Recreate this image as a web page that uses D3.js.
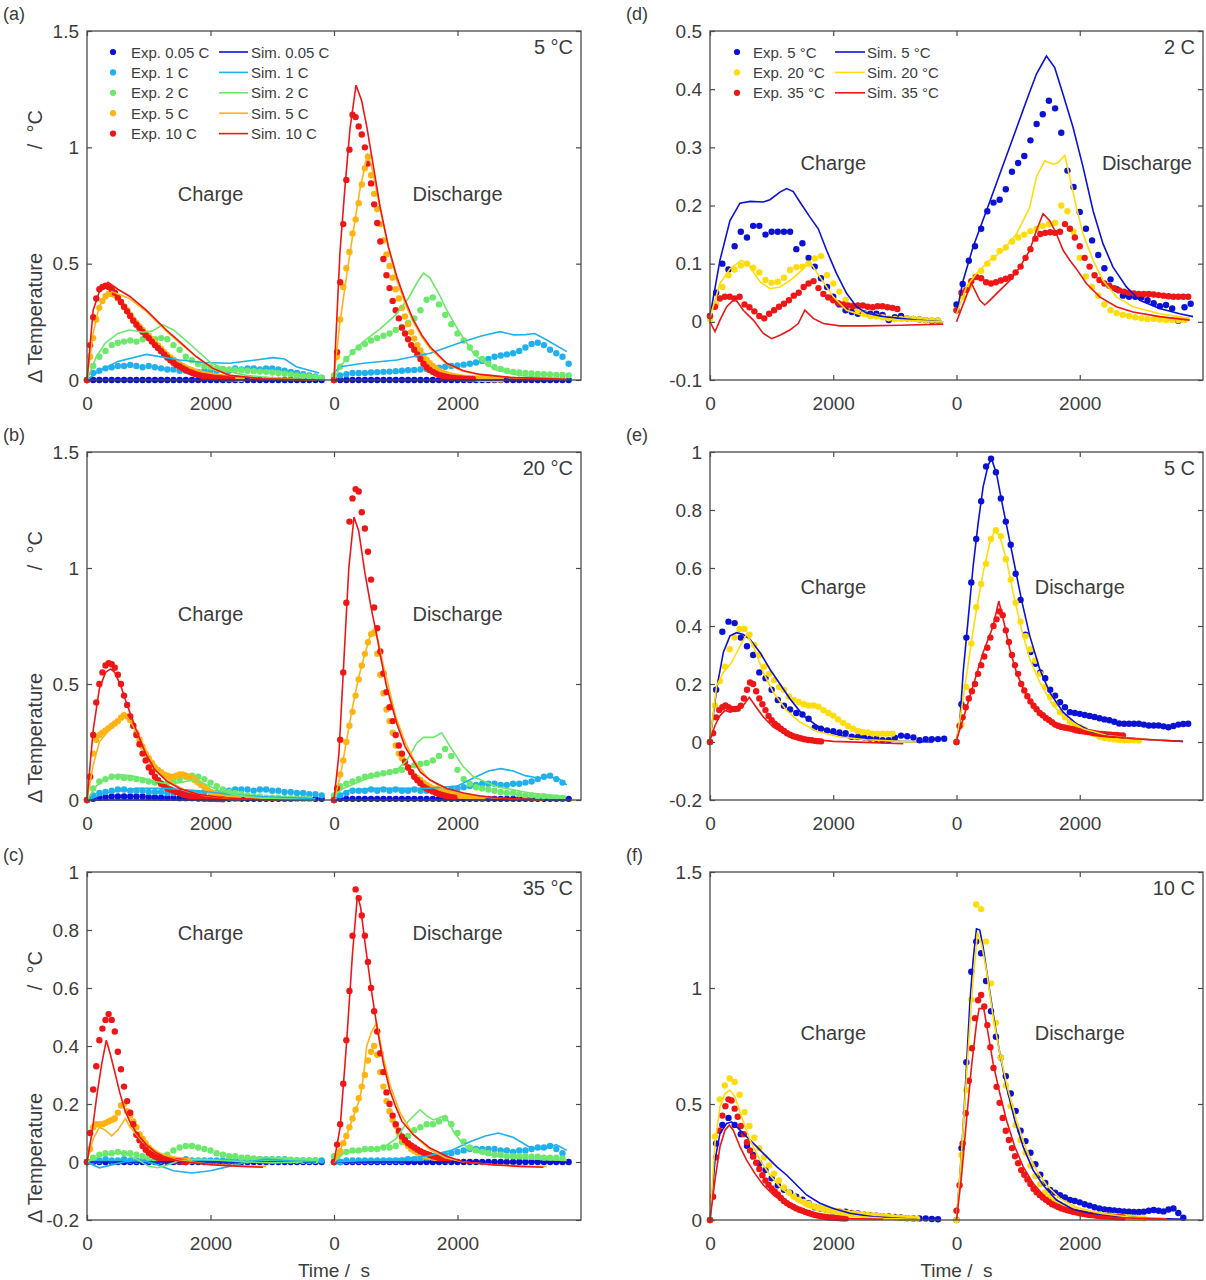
<!DOCTYPE html>
<html>
<head>
<meta charset="utf-8">
<script src="https://d3js.org/d3.v7.min.js"></script>
<style>
  body { margin: 0; background: #fff; }
  text { font-family: "Liberation Sans", Arial, sans-serif; fill: #3c3c3c; }
</style>
</head>
<body>
<script>
// ---------- shared labels ----------
const rateNames = ["0.05 C", "1 C", "2 C", "5 C", "10 C"];
const tempNames = ["5 °C", "20 °C", "35 °C"];
const rateColors = ["#0b12d6", "#1fb0ee", "#6ce86c", "#ffb414", "#ee1616"];
const tempColors = ["#0b12d6", "#ffdc0a", "#ee1616"];
const xTicks = [0, 2000, 4000, 6000];
const xTickLabels = ["0", "2000", "0", "2000"];
const disOffset = 4000;   // discharge curves start here on the shared time axis

// ---------- (a) 5 °C ----------
const a_chg_dt = [100, 100, 100, 50, 50];
const a_chg_exp = [
  [0,0,0,0,0,0,0,0,0,0,0,0,0,0,0,0,0,0,0,0,0,0,0,0,0,0,0,0,0,0,0,0,0,0,0,0,0,0,0],
  [0,0.03,0.04,0.05,0.055,0.06,0.06,0.065,0.06,0.055,0.06,0.055,0.05,0.045,0.045,0.04,0.04,0.04,0.035,0.04,0.04,0.04,0.045,0.04,0.05,0.045,0.05,0.05,0.045,0.05,0.05,0.045,0.04,0.035,0.03,0.025,0.02,0.015,0.01],
  [0,0.06,0.1,0.125,0.15,0.16,0.165,0.17,0.165,0.175,0.18,0.175,0.18,0.175,0.15,0.13,0.1,0.085,0.07,0.06,0.055,0.05,0.047,0.045,0.043,0.042,0.04,0.038,0.036,0.035,0.032,0.03,0.027,0.024,0.02,0.017,0.015,0.012,0.01],
  [0,0.1,0.18,0.26,0.31,0.34,0.36,0.37,0.37,0.365,0.35,0.335,0.315,0.3,0.28,0.26,0.245,0.23,0.215,0.2,0.19,0.175,0.16,0.148,0.135,0.12,0.108,0.097,0.087,0.077,0.068,0.06,0.053,0.047,0.042,0.037,0.032,0.028,0.025,0.022,0.02,0.017,0.015,0.013,0.011,0.01,0.009,0.008,0.007,0.006,0.005],
  [0,0.15,0.27,0.35,0.39,0.4,0.405,0.4,0.39,0.375,0.355,0.335,0.315,0.295,0.275,0.255,0.238,0.222,0.207,0.193,0.18,0.165,0.15,0.137,0.124,0.11,0.097,0.085,0.074,0.064,0.058,0.05,0.043,0.036,0.031,0.026,0.022,0.019,0.016,0.014,0.012,0.01,0.009,0.008,0.007,0.006,0.005,0.004]
];
const a_chg_sim = [
  [[0,0],[3700,0]],
  [[0,0],[200,0.04],[500,0.08],[960,0.11],[1300,0.095],[1500,0.086],[1900,0.075],[2310,0.072],[2700,0.085],[3015,0.096],[3200,0.09],[3390,0.057],[3760,0.03]],
  [[0,0],[150,0.1],[300,0.16],[500,0.2],[690,0.215],[900,0.205],[1050,0.21],[1230,0.237],[1400,0.215],[1600,0.17],[1770,0.13],[2000,0.075],[2150,0.057],[2400,0.03],[2580,0.02],[3000,0.01],[3700,0]],
  [[0,0],[100,0.2],[200,0.32],[400,0.38],[690,0.35],[960,0.295],[1285,0.21],[1500,0.16],[1770,0.1],[2040,0.05],[2310,0.02],[2850,0.005],[3700,0]],
  [[0,0],[100,0.3],[200,0.38],[340,0.42],[500,0.39],[690,0.36],[960,0.3],[1285,0.215],[1500,0.165],[1770,0.1],[2040,0.05],[2310,0.02],[2850,0.005],[3700,0]]
];
const a_dis_dt = [100, 100, 100, 50, 50];
const a_dis_exp = [
  [0,0,0,0,0,0,0,0,0,0,0,0,0,0,0,0,0,0,0,0,0,0,0,0,0,0,0,0,0,0,0,0,0,0,0,0,0,0,0],
  [0.01,0.02,0.025,0.03,0.03,0.03,0.032,0.034,0.035,0.036,0.038,0.04,0.042,0.043,0.045,0.047,0.05,0.053,0.057,0.06,0.063,0.066,0.07,0.075,0.082,0.09,0.1,0.105,0.11,0.115,0.125,0.14,0.155,0.16,0.15,0.13,0.115,0.1,0.07],
  [0.02,0.057,0.09,0.12,0.14,0.155,0.17,0.18,0.19,0.2,0.215,0.228,0.245,0.265,0.3,0.345,0.355,0.325,0.28,0.24,0.2,0.17,0.14,0.115,0.09,0.07,0.055,0.047,0.04,0.035,0.032,0.03,0.028,0.026,0.025,0.024,0.022,0.022,0.02],
  [0,0.1,0.26,0.4,0.48,0.55,0.63,0.69,0.76,0.84,0.91,0.96,0.88,0.8,0.735,0.67,0.6,0.54,0.49,0.44,0.39,0.35,0.31,0.273,0.24,0.205,0.178,0.15,0.127,0.105,0.086,0.072,0.06,0.05,0.04,0.032,0.027,0.022,0.019,0.016,0.014,0.012,0.01,0.009,0.008,0.007,0.006,0.005,0.005,0.004,0.004,0.003,0.003,0.003,0.002],
  [0,0.12,0.42,0.67,0.86,0.99,1.14,1.13,1.09,1.055,1.0,0.93,0.845,0.755,0.675,0.595,0.52,0.45,0.395,0.34,0.3,0.265,0.225,0.2,0.175,0.15,0.13,0.11,0.09,0.07,0.055,0.043,0.035,0.028,0.022,0.018,0.015,0.012,0.01,0.009,0.008,0.007,0.006,0.005,0.005,0.004]
];
const a_dis_sim = [
  [[0,0],[3770,0]],
  [[0,0.03],[97,0.057],[475,0.072],[1016,0.086],[1556,0.115],[2096,0.165],[2400,0.19],[2690,0.208],[2906,0.194],[3100,0.195],[3250,0.2],[3446,0.172],[3770,0.122]],
  [[0,0],[97,0.057],[300,0.12],[500,0.17],[745,0.22],[1000,0.28],[1200,0.35],[1350,0.42],[1448,0.459],[1550,0.44],[1700,0.37],[1826,0.3],[2000,0.22],[2258,0.115],[2400,0.08],[2636,0.043],[3000,0.02],[3400,0.01],[3770,0.005]],
  [[0,0],[20,0.06],[97,0.25],[205,0.45],[313,0.64],[421,0.82],[540,0.968],[600,0.93],[700,0.8],[800,0.67],[900,0.55],[1016,0.43],[1151,0.33],[1285,0.25],[1421,0.185],[1556,0.135],[1826,0.068],[2096,0.038],[2366,0.022],[2906,0.009],[3770,0.002]],
  [[0,0],[32,0.19],[97,0.55],[178,0.83],[259,1.08],[357,1.267],[448,1.2],[530,1.09],[637,0.92],[745,0.746],[880,0.574],[1016,0.445],[1151,0.344],[1285,0.258],[1421,0.194],[1556,0.143],[1826,0.072],[2096,0.04],[2366,0.024],[2906,0.01],[3770,0.003]]
];

// ---------- (b) 20 °C ----------
const b_chg_dt = [100, 100, 100, 50, 50];
const b_chg_exp = [
  [0,0.005,0.01,0.012,0.015,0.015,0.015,0.015,0.015,0.015,0.012,0.012,0.01,0.01,0.01,0.008,0.008,0.008,0.006,0.006,0.005,0.005,0.005,0.005,0.005,0.005,0.005,0.005,0.005,0.005,0.005,0.005,0.005,0.005,0.005,0.005,0.005,0.005,0.005],
  [0,0.02,0.03,0.035,0.04,0.045,0.045,0.04,0.04,0.04,0.035,0.035,0.035,0.03,0.03,0.03,0.03,0.03,0.03,0.035,0.035,0.03,0.035,0.04,0.045,0.045,0.045,0.04,0.045,0.045,0.04,0.04,0.035,0.035,0.03,0.03,0.025,0.025,0.02],
  [0,0.05,0.08,0.09,0.1,0.1,0.095,0.095,0.09,0.085,0.08,0.075,0.07,0.075,0.08,0.09,0.1,0.105,0.1,0.09,0.075,0.06,0.045,0.035,0.03,0.025,0.02,0.015,0.015,0.01,0.01,0.01,0.008,0.008,0.005,0.005,0.005],
  [0,0.1,0.2,0.26,0.28,0.29,0.3,0.31,0.32,0.33,0.34,0.355,0.365,0.36,0.345,0.32,0.29,0.26,0.23,0.2,0.18,0.16,0.14,0.13,0.12,0.11,0.105,0.1,0.1,0.105,0.11,0.11,0.105,0.1,0.095,0.085,0.075,0.065,0.055,0.045,0.035,0.03,0.025,0.02,0.015,0.012,0.01,0.008,0.006,0.005],
  [0,0.1,0.28,0.42,0.5,0.55,0.58,0.59,0.585,0.57,0.54,0.5,0.45,0.41,0.36,0.32,0.28,0.24,0.2,0.17,0.14,0.12,0.1,0.085,0.07,0.06,0.05,0.045,0.04,0.035,0.03,0.025,0.02,0.018,0.015,0.012,0.01,0.008,0.007,0.006,0.005,0.005,0.004,0.004,0.003]
];
const b_chg_sim = [
  [[0,0],[3700,0]],
  [[0,0],[300,0.03],[800,0.05],[1300,0.05],[1800,0.04],[2300,0.025],[2800,0.015],[3300,0.01],[3700,0.005]],
  [[0,0],[150,0.06],[300,0.09],[500,0.11],[700,0.105],[900,0.095],[1100,0.08],[1300,0.07],[1500,0.075],[1700,0.085],[1900,0.07],[2100,0.045],[2400,0.022],[2800,0.008],[3400,0.002],[3700,0]],
  [[0,0],[100,0.15],[200,0.25],[350,0.3],[450,0.33],[550,0.365],[620,0.37],[700,0.34],[850,0.27],[1000,0.19],[1200,0.12],[1400,0.07],[1600,0.04],[1900,0.02],[2300,0.007],[3100,0]],
  [[0,0],[100,0.3],[200,0.48],[300,0.55],[380,0.565],[450,0.55],[550,0.49],[650,0.41],[800,0.3],[950,0.2],[1100,0.13],[1300,0.08],[1500,0.05],[1800,0.025],[2200,0.01],[2800,0.002],[3100,0]]
];
const b_dis_dt = [100, 100, 100, 50, 50];
const b_dis_exp = [
  [0,0.005,0.005,0.005,0.005,0.005,0.005,0.005,0.005,0.005,0.005,0.005,0.005,0.005,0.005,0.005,0.005,0.005,0.005,0.005,0.005,0.005,0.005,0.005,0.005,0.005,0.005,0.005,0.005,0.005,0.005,0.005,0.005,0.005,0.005,0.005,0.005,0.005,0.005],
  [0,0.02,0.03,0.04,0.04,0.04,0.045,0.04,0.045,0.04,0.045,0.04,0.04,0.045,0.04,0.04,0.04,0.045,0.04,0.045,0.05,0.055,0.06,0.065,0.07,0.07,0.07,0.065,0.065,0.07,0.07,0.075,0.08,0.09,0.1,0.105,0.09,0.075],
  [0.02,0.06,0.07,0.08,0.09,0.1,0.105,0.11,0.115,0.12,0.125,0.13,0.14,0.15,0.155,0.16,0.17,0.19,0.22,0.19,0.13,0.09,0.07,0.055,0.05,0.045,0.04,0.035,0.03,0.03,0.025,0.02,0.02,0.015,0.015,0.01,0.01,0.008],
  [0,0.05,0.11,0.17,0.25,0.32,0.38,0.45,0.52,0.58,0.63,0.68,0.715,0.72,0.63,0.54,0.46,0.39,0.34,0.29,0.235,0.2,0.18,0.16,0.14,0.12,0.105,0.095,0.086,0.075,0.065,0.057,0.05,0.045,0.04,0.035,0.03,0.027,0.024,0.021,0.019,0.018,0.017,0.015,0.013,0.012,0.01,0.009,0.008],
  [0,0.05,0.26,0.55,0.85,1.2,1.3,1.34,1.33,1.24,1.17,1.07,0.95,0.83,0.74,0.64,0.545,0.465,0.4,0.34,0.28,0.235,0.2,0.165,0.14,0.12,0.1,0.085,0.072,0.057,0.05,0.043,0.037,0.031,0.026,0.022,0.018,0.015,0.012,0.01]
];
const b_dis_sim = [
  [[0,0],[3770,0]],
  [[0,0],[200,0.04],[600,0.05],[1000,0.05],[1500,0.05],[2000,0.06],[2300,0.1],[2500,0.125],[2700,0.135],[2900,0.125],[3100,0.105],[3300,0.095],[3500,0.1],[3650,0.09],[3770,0.065]],
  [[0,0.02],[150,0.05],[475,0.086],[745,0.11],[1016,0.13],[1178,0.17],[1340,0.245],[1448,0.27],[1610,0.27],[1745,0.29],[1880,0.23],[2096,0.143],[2258,0.1],[2636,0.057],[3176,0.03],[3770,0.015]],
  [[0,0],[100,0.1],[200,0.25],[300,0.4],[400,0.53],[500,0.63],[600,0.72],[650,0.74],[720,0.68],[800,0.58],[900,0.47],[1000,0.36],[1150,0.25],[1300,0.17],[1500,0.1],[1700,0.06],[2000,0.03],[2400,0.012],[3000,0.003],[3400,0]],
  [[0,0],[80,0.2],[160,0.6],[240,1.0],[324,1.22],[400,1.16],[500,0.98],[600,0.83],[700,0.7],[745,0.63],[850,0.49],[1016,0.33],[1150,0.23],[1285,0.17],[1400,0.12],[1556,0.086],[1826,0.05],[2100,0.03],[2366,0.017],[2800,0.006],[3400,0]]
];

// ---------- (c) 35 °C ----------
const c_chg_dt = [100, 100, 100, 50, 50];
const c_chg_exp = [
  [0,0,0,0,0,0,0,0,0,0,0,0,0,0,0,0,0,0,0,0,0,0,0,0,0,0,0,0,0,0,0,0,0,0,0,0,0,0,0],
  [0,0.005,0.005,0.01,0.005,0.005,0.01,0.005,0.005,0.01,0.005,0.005,0.005,0.01,0.005,0.005,0.01,0.005,0.005,0.005,0.005,0.005,0.005,0.005,0.005,0.005,0.005,0.01,0.01,0.01,0.01,0.01,0.01,0.005,0.005,0.005,0.005,0.005,0.005],
  [0,0.015,0.025,0.03,0.03,0.035,0.03,0.03,0.025,0.02,0.015,0.01,0.015,0.025,0.04,0.05,0.055,0.055,0.05,0.045,0.04,0.03,0.025,0.02,0.02,0.015,0.015,0.012,0.01,0.01,0.01,0.008,0.008,0.008,0.006,0.005,0.005,0.005],
  [0,0.045,0.12,0.13,0.13,0.13,0.135,0.14,0.145,0.15,0.17,0.195,0.2,0.175,0.16,0.14,0.12,0.095,0.08,0.065,0.05,0.04,0.032,0.025,0.02,0.017,0.014,0.012,0.01,0.008,0.006,0.005,0.004,0.003],
  [0,0.1,0.25,0.33,0.42,0.46,0.49,0.51,0.49,0.45,0.38,0.32,0.26,0.21,0.17,0.13,0.094,0.075,0.055,0.042,0.032,0.025,0.019,0.015,0.011,0.008,0.006,0.005,0.004,0.003,0.002,0.001,0]
];
const c_chg_sim = [
  [[0,0],[3700,0]],
  [[0,0],[200,-0.02],[400,-0.01],[600,0],[800,0.005],[1000,0],[1200,-0.015],[1400,-0.03],[1700,-0.038],[2000,-0.03],[2300,-0.015],[2600,0],[2900,0.01],[3200,0.005],[3700,0]],
  [[0,0],[200,0.02],[400,0.03],[600,0.03],[800,0.01],[1000,-0.015],[1150,-0.02],[1300,-0.01],[1500,0.005],[1800,0.01],[2200,0.005],[2600,0],[3000,-0.003],[3500,0]],
  [[0,0],[100,0.08],[200,0.12],[300,0.11],[400,0.09],[500,0.11],[620,0.15],[700,0.12],[800,0.095],[900,0.07],[1050,0.045],[1250,0.02],[1500,0.005],[2000,-0.008],[2500,-0.013],[2900,-0.015]],
  [[0,0],[80,0.1],[160,0.23],[240,0.34],[313,0.42],[380,0.37],[450,0.31],[530,0.24],[610,0.18],[691,0.14],[800,0.1],[960,0.06],[1100,0.035],[1230,0.02],[1500,0.002],[2040,-0.01],[2600,-0.016],[2850,-0.018]]
];
const c_dis_dt = [100, 100, 100, 50, 50];
const c_dis_exp = [
  [0,0,0,0,0,0,0,0,0,0,0,0,0,0,0,0,0,0,0,0,0,0,0,0,0,0,0,0,0,0,0,0,0,0,0,0,0,0,0],
  [0,0,0.005,0.005,0.005,0.005,0.005,0.005,0.005,0.005,0.005,0.005,0.01,0.01,0.01,0.015,0.015,0.02,0.025,0.03,0.035,0.04,0.045,0.045,0.045,0.045,0.045,0.04,0.04,0.035,0.04,0.04,0.045,0.05,0.05,0.055,0.045,0.03],
  [0.02,0.03,0.035,0.04,0.04,0.045,0.045,0.045,0.05,0.05,0.055,0.07,0.09,0.11,0.12,0.13,0.13,0.14,0.15,0.13,0.1,0.07,0.05,0.04,0.035,0.03,0.025,0.025,0.02,0.02,0.02,0.02,0.018,0.018,0.015,0.015,0.015,0.012],
  [0,0.02,0.037,0.065,0.09,0.12,0.15,0.18,0.22,0.26,0.3,0.35,0.38,0.4,0.37,0.31,0.26,0.21,0.175,0.145,0.125,0.1,0.082,0.068,0.055,0.045,0.038,0.032,0.027,0.023,0.02,0.018,0.016,0.014,0.012,0.01,0.008,0.006],
  [0,0.06,0.13,0.27,0.42,0.59,0.78,0.94,0.91,0.85,0.78,0.69,0.6,0.52,0.45,0.375,0.31,0.24,0.2,0.16,0.13,0.108,0.088,0.075,0.065,0.057,0.05,0.043,0.037,0.032,0.028,0.024,0.02,0.017,0.014,0.011,0.008,0.006]
];
const c_dis_sim = [
  [[0,0],[3770,0]],
  [[0,0],[500,0.005],[1000,0.01],[1500,0.02],[1900,0.04],[2200,0.07],[2450,0.09],[2660,0.1],[2900,0.085],[3176,0.05],[3400,0.045],[3600,0.06],[3770,0.04]],
  [[0,0],[150,0.03],[500,0.04],[800,0.05],[1000,0.08],[1200,0.14],[1394,0.18],[1500,0.16],[1610,0.145],[1800,0.16],[1950,0.1],[2096,0.06],[2300,0.035],[2636,0.02],[3000,0.012],[3500,0.008],[3770,0.005]],
  [[0,0],[100,0.04],[205,0.094],[320,0.16],[421,0.22],[480,0.3],[530,0.4],[610,0.45],[691,0.48],[800,0.36],[908,0.265],[1070,0.17],[1285,0.094],[1556,0.042],[1800,0.015],[2096,0],[2600,-0.01],[3100,-0.014],[3446,-0.015]],
  [[0,0],[100,0.12],[200,0.4],[300,0.72],[380,0.92],[430,0.88],[500,0.76],[600,0.6],[700,0.46],[800,0.34],[900,0.25],[1000,0.19],[1100,0.14],[1285,0.094],[1556,0.048],[1826,0.02],[2100,0],[2600,-0.01],[3000,-0.015],[3392,-0.018]]
];

// ---------- (d) 2 C ----------
const d_chg_dt = [100, 100, 80];
const d_chg_exp = [
  [0.01,0.05,0.1,0.09,0.13,0.155,0.145,0.165,0.165,0.15,0.155,0.155,0.155,0.155,0.125,0.135,0.11,0.095,0.075,0.06,0.043,0.03,0.02,0.017,0.014,0.015,0.014,0.014,0.012,0.003,0.008,0.01,0.006,0.005,0.004,0.003,0.002,0.002],
  [0.005,0.03,0.06,0.08,0.09,0.097,0.1,0.093,0.085,0.072,0.067,0.069,0.076,0.089,0.094,0.095,0.1,0.109,0.113,0.08,0.066,0.052,0.038,0.028,0.02,0.014,0.01,0.009,0.008,0.006,0.005,0.005,0.006,0.005,0.004,0.003,0.003,0.002],
  [0.01,0.026,0.04,0.043,0.043,0.04,0.043,0.03,0.025,0.018,0.01,0.006,0.014,0.02,0.026,0.031,0.037,0.045,0.05,0.06,0.066,0.07,0.058,0.048,0.042,0.037,0.032,0.03,0.028,0.027,0.028,0.028,0.026,0.025,0.027,0.027,0.025,0.024,0.022]
];
const d_chg_sim = [
  [[0,0.01],[162,0.106],[324,0.174],[486,0.204],[649,0.207],[865,0.206],[973,0.21],[1135,0.223],[1243,0.229],[1351,0.224],[1459,0.206],[1622,0.18],[1757,0.16],[1892,0.123],[2054,0.083],[2216,0.049],[2378,0.026],[2540,0.015],[2811,0.009],[3351,0.003],[3784,0]],
  [[0,0.008],[162,0.066],[324,0.091],[513,0.106],[649,0.094],[811,0.069],[973,0.057],[1135,0.06],[1297,0.071],[1459,0.086],[1622,0.103],[1784,0.077],[2000,0.043],[2216,0.02],[2540,0.009],[3081,0.003],[3784,0]],
  [[0,0],[81,-0.017],[162,0.003],[270,0.026],[405,0.04],[540,0.02],[703,0.003],[865,-0.02],[1000,-0.029],[1135,-0.023],[1297,-0.014],[1432,-0.003],[1540,0.02],[1676,0.006],[1838,-0.003],[2108,-0.007],[2540,-0.007],[3081,-0.006],[3784,-0.004]]
];
const d_dis_dt = [100, 100, 80];
const d_dis_exp = [
  [0.03,0.065,0.105,0.13,0.16,0.19,0.205,0.21,0.228,0.258,0.273,0.285,0.312,0.34,0.357,0.38,0.367,0.325,0.26,0.232,0.189,0.16,0.14,0.115,0.092,0.073,0.056,0.045,0.043,0.043,0.042,0.037,0.032,0.027,0.029,0.023,0.002,0.025,0.031],
  [0.02,0.043,0.06,0.077,0.088,0.1,0.11,0.122,0.128,0.138,0.145,0.15,0.156,0.16,0.165,0.168,0.17,0.2,0.19,0.155,0.11,0.078,0.06,0.045,0.03,0.02,0.015,0.012,0.01,0.008,0.006,0.005,0.005,0.004,0.003,0.003,0.003,0.003],
  [0.02,0.05,0.055,0.07,0.077,0.075,0.068,0.066,0.068,0.071,0.074,0.077,0.085,0.095,0.11,0.125,0.143,0.151,0.153,0.154,0.153,0.155,0.168,0.16,0.145,0.13,0.11,0.095,0.08,0.072,0.066,0.062,0.058,0.054,0.052,0.05,0.049,0.048,0.048,0.048,0.047,0.046,0.045,0.044,0.043,0.043,0.043,0.043]
];
const d_dis_sim = [
  [[0,0.014],[108,0.071],[270,0.129],[486,0.191],[703,0.254],[919,0.317],[1135,0.38],[1297,0.426],[1459,0.457],[1594,0.437],[1730,0.391],[1892,0.334],[2054,0.266],[2216,0.191],[2378,0.134],[2540,0.094],[2757,0.06],[2973,0.037],[3297,0.023],[3622,0.014],[3838,0.009]],
  [[0,0.014],[162,0.06],[324,0.083],[540,0.106],[757,0.123],[973,0.151],[1189,0.197],[1297,0.249],[1432,0.277],[1567,0.271],[1649,0.274],[1757,0.286],[1838,0.249],[1946,0.197],[2054,0.151],[2216,0.106],[2378,0.071],[2595,0.043],[2865,0.026],[3297,0.014],[3784,0.006]],
  [[0,0],[108,0.03],[216,0.06],[243,0.066],[378,0.037],[459,0.029],[540,0.037],[703,0.054],[865,0.071],[1027,0.094],[1189,0.123],[1297,0.157],[1405,0.186],[1513,0.174],[1622,0.151],[1730,0.123],[1838,0.106],[1946,0.091],[2108,0.066],[2324,0.043],[2595,0.026],[2865,0.017],[3297,0.009],[3784,0.003]]
];

// ---------- (e) 5 C ----------
const e_chg_dt = [100, 80, 50];
const e_chg_exp = [
  [0,0.18,0.38,0.415,0.41,0.36,0.33,0.3,0.24,0.22,0.18,0.145,0.125,0.112,0.1,0.095,0.08,0.05,0.046,0.04,0.037,0.033,0.03,0.018,0.017,0.016,0.012,0.011,0.006,0.006,0.015,0.022,0.02,0.016,0.006,0.01,0.01,0.01,0.011],
  [0,0.126,0.21,0.26,0.32,0.36,0.39,0.39,0.37,0.335,0.3,0.26,0.235,0.213,0.19,0.18,0.157,0.145,0.138,0.13,0.126,0.126,0.122,0.11,0.1,0.091,0.078,0.066,0.055,0.046,0.038,0.034,0.033,0.029,0.029,0.029,0.029,0.029],
  [0,0.03,0.085,0.11,0.12,0.126,0.12,0.114,0.114,0.115,0.125,0.15,0.18,0.205,0.2,0.175,0.15,0.13,0.11,0.09,0.075,0.063,0.055,0.046,0.038,0.03,0.025,0.02,0.017,0.014,0.011,0.009,0.007,0.006,0.004,0.003,0.002]
];
const e_chg_sim = [
  [[0,0.006],[108,0.183],[216,0.309],[324,0.366],[432,0.377],[540,0.371],[649,0.354],[811,0.309],[973,0.251],[1135,0.2],[1297,0.149],[1513,0.091],[1730,0.057],[2000,0.029],[2270,0.014],[2649,0.006],[3081,0.002],[3622,0]],
  [[0,0.006],[108,0.194],[216,0.24],[351,0.274],[486,0.331],[595,0.371],[703,0.331],[865,0.24],[1027,0.171],[1243,0.109],[1459,0.069],[1730,0.037],[2108,0.017],[2540,0.008],[3081,0.002],[3351,0]],
  [[0,0.006],[81,0.057],[162,0.091],[243,0.109],[324,0.103],[432,0.109],[540,0.126],[638,0.154],[730,0.126],[865,0.086],[1027,0.051],[1243,0.025],[1459,0.014],[2000,0.002],[2649,-0.002],[3135,-0.006]]
];
const e_dis_dt = [80, 80, 50];
const e_dis_exp = [
  [0,0.13,0.36,0.55,0.7,0.83,0.95,0.977,0.93,0.84,0.76,0.68,0.58,0.49,0.37,0.31,0.27,0.24,0.22,0.18,0.16,0.137,0.12,0.103,0.1,0.097,0.093,0.09,0.086,0.082,0.078,0.075,0.07,0.064,0.063,0.063,0.063,0.063,0.06,0.057,0.057,0.057,0.054,0.051,0.055,0.06,0.062,0.063],
  [0,0.06,0.19,0.34,0.465,0.545,0.615,0.7,0.73,0.71,0.63,0.56,0.48,0.415,0.365,0.32,0.28,0.235,0.19,0.155,0.13,0.103,0.085,0.07,0.06,0.052,0.043,0.035,0.027,0.018,0.014,0.011,0.009,0.007,0.006,0.006,0.006,0.005],
  [0,0.055,0.085,0.12,0.15,0.175,0.2,0.235,0.265,0.295,0.325,0.36,0.4,0.423,0.45,0.437,0.385,0.345,0.3,0.265,0.235,0.2,0.178,0.158,0.14,0.125,0.113,0.1,0.092,0.083,0.076,0.068,0.06,0.056,0.052,0.05,0.048,0.046,0.043,0.04,0.038,0.037,0.035,0.034,0.032,0.03,0.029,0.028,0.027,0.026,0.025,0.024,0.024,0.023,0.023]
];
const e_dis_sim = [
  [[0,0.006],[54,0.069],[108,0.24],[189,0.423],[270,0.606],[351,0.754],[432,0.88],[513,0.954],[567,0.977],[649,0.926],[730,0.834],[838,0.72],[946,0.606],[1054,0.491],[1189,0.366],[1351,0.251],[1513,0.171],[1730,0.103],[1946,0.063],[2216,0.034],[2595,0.017],[3135,0.008],[3676,0.002]],
  [[0,0.006],[108,0.149],[216,0.309],[324,0.457],[432,0.583],[540,0.686],[622,0.731],[703,0.709],[811,0.629],[919,0.514],[1054,0.389],[1189,0.286],[1351,0.206],[1567,0.126],[1784,0.08],[2054,0.046],[2432,0.023],[2865,0.011],[3405,0.006]],
  [[0,0.006],[108,0.08],[270,0.194],[432,0.309],[595,0.4],[686,0.486],[784,0.4],[865,0.32],[973,0.24],[1108,0.171],[1243,0.126],[1459,0.08],[1676,0.057],[1946,0.04],[2324,0.023],[2865,0.011],[3676,0.002]]
];

// ---------- (f) 10 C ----------
const f_chg_dt = [100, 80, 50];
const f_chg_exp = [
  [0,0.33,0.41,0.44,0.41,0.37,0.32,0.28,0.245,0.215,0.18,0.15,0.13,0.118,0.1,0.088,0.072,0.055,0.048,0.043,0.037,0.036,0.036,0.03,0.028,0.023,0.02,0.018,0.016,0.015,0.013,0.011,0.008,0.007,0.007,0.007,0.004,0.003],
  [0,0.36,0.52,0.58,0.61,0.595,0.54,0.465,0.405,0.355,0.31,0.27,0.235,0.2,0.17,0.14,0.118,0.1,0.088,0.078,0.07,0.06,0.054,0.05,0.045,0.042,0.038,0.034,0.03,0.028,0.026,0.024,0.022,0.02,0.018,0.016,0.014,0.013,0.011,0.01,0.008,0.007,0.006],
  [0,0.1,0.27,0.385,0.45,0.49,0.52,0.515,0.48,0.445,0.405,0.37,0.335,0.3,0.273,0.247,0.22,0.193,0.17,0.152,0.136,0.123,0.11,0.095,0.082,0.072,0.064,0.057,0.05,0.044,0.04,0.034,0.03,0.026,0.022,0.019,0.016,0.014,0.012,0.011,0.01,0.009,0.008,0.007,0.007]
];
const f_chg_sim = [
  [[0,0],[81,0.258],[162,0.373],[270,0.416],[351,0.423],[459,0.395],[595,0.359],[757,0.316],[919,0.273],[1081,0.23],[1243,0.194],[1405,0.151],[1567,0.108],[1784,0.072],[2000,0.05],[2270,0.029],[2649,0.014],[3081,0.007],[3351,0.003]],
  [[0,0],[81,0.33],[162,0.488],[243,0.545],[324,0.56],[405,0.531],[513,0.445],[649,0.344],[811,0.258],[973,0.194],[1135,0.143],[1351,0.093],[1567,0.057],[1892,0.032],[2270,0.017],[2811,0.007],[3351,0.003]],
  [[0,0],[81,0.172],[162,0.316],[243,0.387],[314,0.409],[378,0.387],[486,0.316],[595,0.258],[730,0.2],[865,0.151],[1027,0.108],[1243,0.065],[1459,0.036],[1730,0.017],[2108,0.007],[2811,0.003]]
];
const f_dis_dt = [80, 80, 50];
const f_dis_exp = [
  [0,0.31,0.68,1.07,1.2,1.15,1.03,0.9,0.79,0.7,0.62,0.545,0.47,0.385,0.34,0.29,0.24,0.195,0.16,0.13,0.118,0.107,0.097,0.086,0.082,0.076,0.068,0.062,0.055,0.05,0.045,0.043,0.041,0.039,0.037,0.036,0.035,0.035,0.036,0.04,0.043,0.04,0.037,0.045,0.05,0.03,0.01],
  [0,0.28,0.56,0.95,1.36,1.34,1.2,1.02,0.85,0.7,0.58,0.49,0.41,0.345,0.29,0.235,0.19,0.155,0.12,0.1,0.082,0.068,0.058,0.05,0.043,0.036,0.031,0.026,0.024,0.022,0.02,0.018,0.017,0.015,0.013,0.011,0.01,0.009,0.007],
  [0.04,0.15,0.33,0.46,0.6,0.74,0.87,0.947,0.97,0.92,0.84,0.745,0.655,0.574,0.505,0.44,0.385,0.345,0.31,0.275,0.245,0.215,0.195,0.175,0.155,0.135,0.12,0.108,0.097,0.087,0.078,0.068,0.062,0.056,0.05,0.046,0.042,0.039,0.035,0.032,0.029,0.027,0.025,0.022,0.021,0.019,0.017,0.016,0.015,0.015,0.014,0.013,0.012,0.012,0.011]
];
const f_dis_sim = [
  [[0,0],[54,0.187],[108,0.4],[162,0.66],[216,0.933],[270,1.12],[324,1.255],[378,1.25],[432,1.176],[513,1.033],[595,0.89],[703,0.717],[811,0.574],[946,0.43],[1081,0.316],[1243,0.215],[1405,0.151],[1622,0.086],[1892,0.046],[2216,0.026],[2595,0.014],[3135,0.007],[3730,0.003]],
  [[0,0],[81,0.287],[162,0.617],[243,0.947],[340,1.24],[405,1.19],[486,1.076],[595,0.875],[703,0.717],[838,0.56],[973,0.43],[1135,0.301],[1297,0.215],[1459,0.151],[1676,0.093],[1946,0.055],[2324,0.029],[2865,0.011],[3405,0.004]],
  [[0,0],[81,0.187],[162,0.43],[243,0.66],[324,0.846],[367,0.911],[443,0.911],[513,0.803],[595,0.674],[703,0.545],[811,0.43],[946,0.316],[1081,0.23],[1243,0.158],[1459,0.093],[1730,0.05],[2054,0.026],[2595,0.011],[3135,0.006],[3405,0.004]]
];

// ---------- layout ----------
const W = 1206, H = 1280;
const colX = [[87, 581], [710, 1203]];
const rowY = [[31, 380], [452, 800], [872, 1220]];

const panels = [
  {lab: "(a)", col: 0, row: 0, dom: [0, 1.5], ticks: [0, 0.5, 1, 1.5], tag: "5 °C", names: rateNames, colors: rateColors,
   chg: [a_chg_dt, a_chg_exp, a_chg_sim], dis: [a_dis_dt, a_dis_exp, a_dis_sim], legend: true, cPos: [2000, 0.8], dPos: [6000, 0.8]},
  {lab: "(b)", col: 0, row: 1, dom: [0, 1.5], ticks: [0, 0.5, 1, 1.5], tag: "20 °C", names: rateNames, colors: rateColors,
   chg: [b_chg_dt, b_chg_exp, b_chg_sim], dis: [b_dis_dt, b_dis_exp, b_dis_sim], cPos: [2000, 0.8], dPos: [6000, 0.8]},
  {lab: "(c)", col: 0, row: 2, dom: [-0.2, 1], ticks: [-0.2, 0, 0.2, 0.4, 0.6, 0.8, 1], tag: "35 °C", names: rateNames, colors: rateColors,
   chg: [c_chg_dt, c_chg_exp, c_chg_sim], dis: [c_dis_dt, c_dis_exp, c_dis_sim], cPos: [2000, 0.79], dPos: [6000, 0.79]},
  {lab: "(d)", col: 1, row: 0, dom: [-0.1, 0.5], ticks: [-0.1, 0, 0.1, 0.2, 0.3, 0.4, 0.5], tag: "2 C", names: tempNames, colors: tempColors,
   chg: [d_chg_dt, d_chg_exp, d_chg_sim], dis: [d_dis_dt, d_dis_exp, d_dis_sim], legend: true, cPos: [2000, 0.273], dPos: [7090, 0.273]},
  {lab: "(e)", col: 1, row: 1, dom: [-0.2, 1], ticks: [-0.2, 0, 0.2, 0.4, 0.6, 0.8, 1], tag: "5 C", names: tempNames, colors: tempColors,
   chg: [e_chg_dt, e_chg_exp, e_chg_sim], dis: [e_dis_dt, e_dis_exp, e_dis_sim], cPos: [2000, 0.534], dPos: [6000, 0.534]},
  {lab: "(f)", col: 1, row: 2, dom: [0, 1.5], ticks: [0, 0.5, 1, 1.5], tag: "10 C", names: tempNames, colors: tempColors,
   chg: [f_chg_dt, f_chg_exp, f_chg_sim], dis: [f_dis_dt, f_dis_exp, f_dis_sim], cPos: [2000, 0.806], dPos: [6000, 0.806]}
];

const svg = d3.select("body").append("svg").attr("width", W).attr("height", H);
const axisColor = "#4a4a4a";
const fmt = v => String(+v.toFixed(2));

panels.forEach(p => {
  const [x0, x1] = colX[p.col], [y0, y1] = rowY[p.row];
  const x = d3.scaleLinear().domain([0, 8000]).range([x0, x1]);
  const y = d3.scaleLinear().domain(p.dom).range([y1, y0]);
  const g = svg.append("g");

  // axes, ticks inside on all four sides
  const bottom = g.append("g").attr("transform", `translate(0,${y1})`)
    .call(d3.axisBottom(x).tickValues(xTicks).tickFormat((d, i) => xTickLabels[i]).tickSizeInner(-5).tickSizeOuter(0).tickPadding(17));
  const top = g.append("g").attr("transform", `translate(0,${y0})`)
    .call(d3.axisTop(x).tickValues(xTicks).tickFormat("").tickSizeInner(-5).tickSizeOuter(0));
  const left = g.append("g").attr("transform", `translate(${x0},0)`)
    .call(d3.axisLeft(y).tickValues(p.ticks).tickFormat(fmt).tickSizeInner(-5).tickSizeOuter(0).tickPadding(8));
  const right = g.append("g").attr("transform", `translate(${x1},0)`)
    .call(d3.axisRight(y).tickValues(p.ticks).tickFormat("").tickSizeInner(-5).tickSizeOuter(0));
  [bottom, top, left, right].forEach(a => {
    a.select(".domain").remove();
    a.selectAll("line").attr("stroke", axisColor).attr("stroke-width", 1.2);
    a.selectAll("text").attr("font-size", 19).attr("fill", "#3c3c3c")
      .attr("font-family", "'Liberation Sans', Arial, sans-serif");
  });

  // data marks
  const marks = g.append("g");
  const line = d3.line().x(d => x(d[0])).y(d => y(d[1]));
  [[p.chg, 0], [p.dis, disOffset]].forEach(([set, off]) => {
    const [dts, exp] = set;
    exp.forEach((vals, i) => {
      marks.append("g").selectAll("circle").data(vals).join("circle")
        .attr("cx", (v, k) => x(off + k * dts[i]))
        .attr("cy", v => y(v))
        .attr("r", 3.2)
        .attr("fill", p.colors[i]);
    });
  });
  [[p.chg, 0], [p.dis, disOffset]].forEach(([set, off]) => {
    const sim = set[2];
    sim.forEach((pts, i) => {
      marks.append("path")
        .datum(pts.map(d => [d[0] + off, d[1]]))
        .attr("d", line)
        .attr("fill", "none")
        .attr("stroke", p.colors[i])
        .attr("stroke-width", 1.6);
    });
  });

  // frame
  g.append("rect").attr("x", x0).attr("y", y0).attr("width", x1 - x0).attr("height", y1 - y0)
    .attr("fill", "none").attr("stroke", axisColor).attr("stroke-width", 1.3);

  // annotations
  g.append("text").attr("x", x(p.cPos[0])).attr("y", y(p.cPos[1])).attr("text-anchor", "middle")
    .attr("dominant-baseline", "central").attr("font-size", 20).text("Charge");
  g.append("text").attr("x", x(p.dPos[0])).attr("y", y(p.dPos[1])).attr("text-anchor", "middle")
    .attr("dominant-baseline", "central").attr("font-size", 20).text("Discharge");
  g.append("text").attr("x", x1 - 8).attr("y", y0 + 23).attr("text-anchor", "end")
    .attr("font-size", 20).text(p.tag);
  g.append("text").attr("x", x0 - 84).attr("y", y0 - 11).attr("font-size", 18).text(p.lab);

  // legend
  if (p.legend) {
    const rate = p.names.length === 5;
    const dotX = x0 + (rate ? 26 : 27), txtX = x0 + (rate ? 44 : 43);
    const l0 = x0 + (rate ? 132 : 125), l1 = x0 + (rate ? 161 : 155), simX = x0 + (rate ? 164 : 157);
    p.names.forEach((n, i) => {
      const yy = y0 + 21 + i * 20.4;
      g.append("circle").attr("cx", dotX).attr("cy", yy).attr("r", 3.1).attr("fill", p.colors[i]);
      g.append("text").attr("x", txtX).attr("y", yy).attr("dominant-baseline", "central")
        .attr("font-size", 15).text("Exp. " + n);
      g.append("line").attr("x1", l0).attr("x2", l1).attr("y1", yy).attr("y2", yy)
        .attr("stroke", p.colors[i]).attr("stroke-width", 1.6);
      g.append("text").attr("x", simX).attr("y", yy).attr("dominant-baseline", "central")
        .attr("font-size", 15).text("Sim. " + n);
    });
  }

  // axis titles
  if (p.col === 0) {
    svg.append("text").attr("transform", `translate(42,${y1 + 3}) rotate(-90)`)
      .attr("text-anchor", "start").attr("font-size", 20).text("Δ Temperature");
    svg.append("text").attr("transform", `translate(42,${y0 + 79}) rotate(-90)`)
      .attr("text-anchor", "end").attr("font-size", 20).attr("xml:space", "preserve").text("/  °C");
  }
  if (p.row === 2) {
    svg.append("text").attr("x", x(4000)).attr("y", 1277).attr("text-anchor", "middle")
      .attr("font-size", 19).attr("xml:space", "preserve").text("Time /  s");
  }
});
</script>
</body>
</html>
